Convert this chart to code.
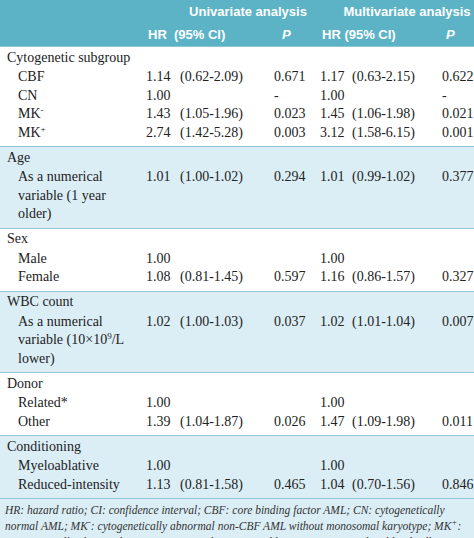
<!DOCTYPE html>
<html><head><meta charset="utf-8">
<script src="https://cdn.jsdelivr.net/npm/chart.js@4/dist/chart.umd.min.js"></script>
<style>
body{margin:0;width:474px;height:538px;overflow:hidden;font-family:"Liberation Serif",serif;font-size:14px;color:#222;background:#fff}
table{border-collapse:collapse;width:474px;table-layout:fixed}
td{padding:0;height:18.5px;line-height:16px;white-space:nowrap;vertical-align:middle}
sup{font-size:9px;line-height:0;vertical-align:5px}
.hd{background:#5bb3c5;color:#fff;font-family:"Liberation Sans",sans-serif;font-weight:bold;font-size:13px}
.hd td{height:23px}
.b{background:#dbeef6}
.sec td{border-top:1px solid #8fc5d4;height:21px}
.foot{background:#dbeef6;font-style:italic;font-size:11.5px;line-height:16px;padding:3px 5px 4px 5px;color:#333;border-top:1px solid #8fc5d4}
</style></head><body>
<table id="t">
<colgroup><col style="width:146px"><col style="width:30px"><col style="width:86px"><col style="width:58px"><col style="width:28px"><col style="width:84px"><col style="width:42px"></colgroup>
<tr class="hd"><td></td><td colspan="3" style="text-align:center;padding-left:30px">Univariate analysis</td><td colspan="3" style="text-align:center;padding-left:20px">Multivariate analysis</td></tr>
<tr class="hd"><td></td><td colspan="2" style="padding-left:2px">HR&nbsp; (95% CI)</td><td style="font-style:italic;padding-left:20px">P</td><td colspan="2" style="padding-left:2px">HR (95% CI)</td><td style="font-style:italic;padding-left:14px">P</td></tr>
</table>
<div class="foot" id="f"></div>
<script>
const sections=["Cytogenetic subgroup","Age","Sex","WBC count","Donor","Conditioning"];
const rowLabels=[["CBF","CN","MK<sup>-</sup>","MK<sup>+</sup>"],["As a numerical","variable (1 year","older)"],["Male","Female"],["As a numerical","variable (10×10<sup>9</sup>/L","lower)"],["Related*","Other"],["Myeloablative","Reduced-intensity"]];
const uniHR=[["1.14","1.00","1.43","2.74"],["1.01","",""],["1.00","1.08"],["1.02","",""],["1.00","1.39"],["1.00","1.13"]];
const uniCI=[["(0.62-2.09)","","(1.05-1.96)","(1.42-5.28)"],["(1.00-1.02)","",""],["","(0.81-1.45)"],["(1.00-1.03)","",""],["","(1.04-1.87)"],["","(0.81-1.58)"]];
const uniP=[["0.671","-","0.023","0.003"],["0.294","",""],["","0.597"],["0.037","",""],["","0.026"],["","0.465"]];
const mulHR=[["1.17","1.00","1.45","3.12"],["1.01","",""],["1.00","1.16"],["1.02","",""],["1.00","1.47"],["1.00","1.04"]];
const mulCI=[["(0.63-2.15)","","(1.06-1.98)","(1.58-6.15)"],["(0.99-1.02)","",""],["","(0.86-1.57)"],["(1.01-1.04)","",""],["","(1.09-1.98)"],["","(0.70-1.56)"]];
const mulP=[["0.622","-","0.021","0.001"],["0.377","",""],["","0.327"],["0.007","",""],["","0.011"],["","0.846"]];
const footnote="HR: hazard ratio; CI: confidence interval; CBF: core binding factor AML; CN: cytogenetically normal AML; MK<sup>-</sup>: cytogenetically abnormal non-CBF AML without monosomal karyotype; MK<sup>+</sup>: cytogenetically abnormal non-CBF AML with monosomal karyotype; WBC: white blood cell count. *\"Related\" indicates a matched or 1 antigen-mismatched family donor.";
const t=document.getElementById('t');let h='';
sections.forEach((s,i)=>{const c=i%2?'b':'';
h+=`<tr class="${c} sec"><td colspan="7" style="padding-left:7px">${s}</td></tr>`;
rowLabels[i].forEach((l,j)=>{
h+=`<tr class="${c}"><td style="padding-left:18px">${l}</td><td>${uniHR[i][j]}</td><td style="padding-left:4px">${uniCI[i][j]}</td><td style="padding-left:12px">${uniP[i][j]}</td><td>${mulHR[i][j]}</td><td style="padding-left:4px">${mulCI[i][j]}</td><td style="padding-left:10px">${mulP[i][j]}</td></tr>`;});
h+=`<tr class="${c}"><td colspan="7" style="height:4px"></td></tr>`;});
t.insertAdjacentHTML('beforeend',h);
document.getElementById('f').innerHTML=footnote;
</script>
</body></html>
